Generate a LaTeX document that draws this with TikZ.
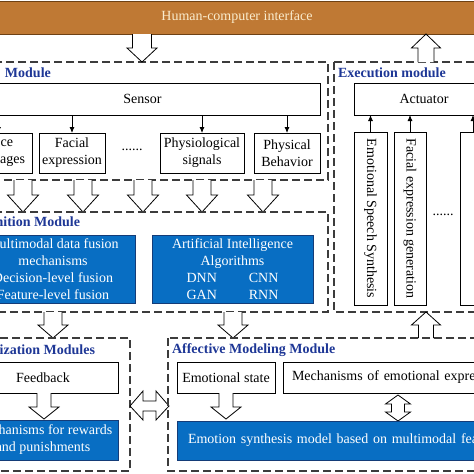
\documentclass[tikz,border=0pt]{standalone}
\usepackage{fontspec}
\setmainfont{Liberation Serif}
\usetikzlibrary{arrows.meta}
\definecolor{hcibar}{RGB}{191,121,52}
\definecolor{hciedge}{RGB}{110,65,20}
\definecolor{hcitext}{RGB}{250,236,205}
\definecolor{modblue}{RGB}{30,55,150}
\definecolor{boxblue}{RGB}{8,110,195}
\definecolor{boxedge}{RGB}{20,60,120}
\definecolor{dashgray}{RGB}{60,60,60}
\newcommand\myblockarrow[6]{% x, ytail, yheadbase, ytip, shaft width, head width
  \draw[harrow] ({#1-#5/2},#2) -- ({#1-#5/2},#3) -- ({#1-#6/2},#3) -- (#1,#4)
    -- ({#1+#6/2},#3) -- ({#1+#5/2},#3) -- ({#1+#5/2},#2);}
\begin{document}
\begin{tikzpicture}[x=1pt,y=-1pt,
  every node/.style={font=\fontsize{14}{17}\selectfont, inner sep=0pt, outer sep=0pt},
  box/.style={draw=black, line width=0.8pt, fill=white, align=center},
  bluebox/.style={draw=boxedge, line width=0.8pt, fill=boxblue, text=white, align=center},
  module/.style={draw=dashgray, line width=1.1pt, dash pattern=on 8pt off 4pt},
  title/.style={font=\fontsize{14}{17}\selectfont\bfseries, text=modblue},
  harrow/.style={draw=black, line width=0.8pt, fill=white, line join=miter},
  sarrow/.style={-{Latex[length=6pt,width=5pt]}, line width=0.8pt}]
\useasboundingbox (0,0) rectangle (474,474);
\clip (0,0) rectangle (474,474);
\fill[white] (0,0) rectangle (474,474);

% top bar
\node[fill=hcibar, draw=hciedge, line width=0.8pt, minimum width=480pt, minimum height=33pt, text=hcitext] (hci) at (237,17.5) {Human-computer interface};

% perception module
\draw[module] (-10,62) rectangle (328,180);
\node[title, anchor=west] (ptitle) at (5,73) {Module};
\node[box, minimum width=355pt, minimum height=32pt] (sensor) at (142.5,99) {Sensor};
\node[box, minimum width=67pt, minimum height=40pt] (s1) at (-1.5,153) {};
\node[align=right, anchor=east] (s1t) at (25,153) {ce\hspace*{12pt}\\ages};
\node[box, minimum width=66pt, minimum height=40pt] (fe) at (72,153) {Facial\\expression};
\node (dots1) at (132,150) {......};
\node[box, minimum width=84pt, minimum height=40pt] (ps) at (202,153) {Physiological\\signals};
\node[box, minimum width=66pt, minimum height=40pt] (pb) at (287,153) {Physical\\Behavior};
\foreach \n in {s1,fe,ps,pb} {\draw[sarrow] (sensor.south -| \n.north) -- (\n.north);}

% block arrows perception -> recognition
\foreach \x in {23,83,143,202,263} {\myblockarrow{\x}{180}{195}{212}{18}{31}}

% recognition module
\draw[module] (-10,212) rectangle (328,312);
\node[title, anchor=east] (rtitle) at (80,223) {Recognition Module};
\node[bluebox, minimum width=164pt, minimum height=68pt] (fusion) at (53,269) {Multimodal data fusion\\mechanisms\\Decision-level fusion\\Feature-level fusion};
\node[bluebox, minimum width=161pt, minimum height=68pt] (ai) at (232.5,269) {Artificial Intelligence\\Algorithms\\DNN\hspace{32pt}CNN\\GAN\hspace{32pt}RNN};

% execution module
\draw[module] (334,62) rectangle (490,312);
\node[title, anchor=west] (etitle) at (338,73) {Execution module};
\node[box, minimum width=140pt, minimum height=32pt] (act) at (424,99) {Actuator};
\node[box, rotate=-90, minimum width=173pt, minimum height=33pt] (ess) at (370.5,218.5) {Emotional Speech Synthesis};
\node[box, rotate=-90, minimum width=173pt, minimum height=32pt] (feg) at (410,218.5) {Facial expression generation};
\node (dots2) at (443,215) {......};
\node[box, minimum width=33pt, minimum height=173pt] (ex3) at (476.5,218.5) {};
\coordinate (ex3a) at (473,132);
\draw[sarrow] (ess.west) -- (ess.west |- act.south);
\draw[sarrow] (feg.west) -- (feg.west |- act.south);
\draw[sarrow] (ex3a) -- (ex3a |- act.south);

% block arrows between modules
\myblockarrow{142}{34}{48}{62}{19}{30}
\myblockarrow{426}{62}{48}{34}{16}{29}
\myblockarrow{53}{312}{325}{338}{18}{30}
\myblockarrow{233}{312}{325}{338}{18}{30}
\myblockarrow{426}{338}{325}{312}{15}{29}

% bottom left module
\draw[module] (-10,338) rectangle (130,471);
\node[title, anchor=east] (otitle) at (95,350) {ization Modules};
\node[box, minimum width=150pt, minimum height=31pt] (fb) at (43,377.5) {Feedback};
\myblockarrow{44}{393}{407}{419}{14}{30}
\node[bluebox, minimum width=150pt, minimum height=40pt] (rew) at (43,440) {Mechanisms for rewards\\and punishments};

% double horizontal arrow
\draw[harrow] (130,406) -- (143,391) -- (143,401) -- (156,401) -- (156,391) -- (169,406)
  -- (156,420) -- (156,411) -- (143,411) -- (143,420) -- cycle;

% affective modeling module
\draw[module] (168,338) rectangle (490,471);
\node[title, anchor=west] (atitle) at (172,350) {Affective Modeling Module};
\node[box, minimum width=98pt, minimum height=31pt] (es) at (226,377.5) {Emotional state};
\node[box, anchor=west, text width=320pt, align=left, inner xsep=9pt, minimum height=31pt] (mech) at (283,377.5) {Mechanisms of emotional expression};
\myblockarrow{226}{393}{407}{419}{14}{30}
\draw[harrow] (398,395) -- (410.5,404) -- (404.5,404) -- (404.5,412) -- (410.5,412) -- (398,421)
  -- (385.5,412) -- (391.5,412) -- (391.5,404) -- (385.5,404) -- cycle;
\node[bluebox, anchor=west, text width=400pt, align=left, inner xsep=11pt, minimum height=39pt] (esm) at (177,440.5) {Emotion synthesis model based on multimodal features};
\end{tikzpicture}
\end{document}
